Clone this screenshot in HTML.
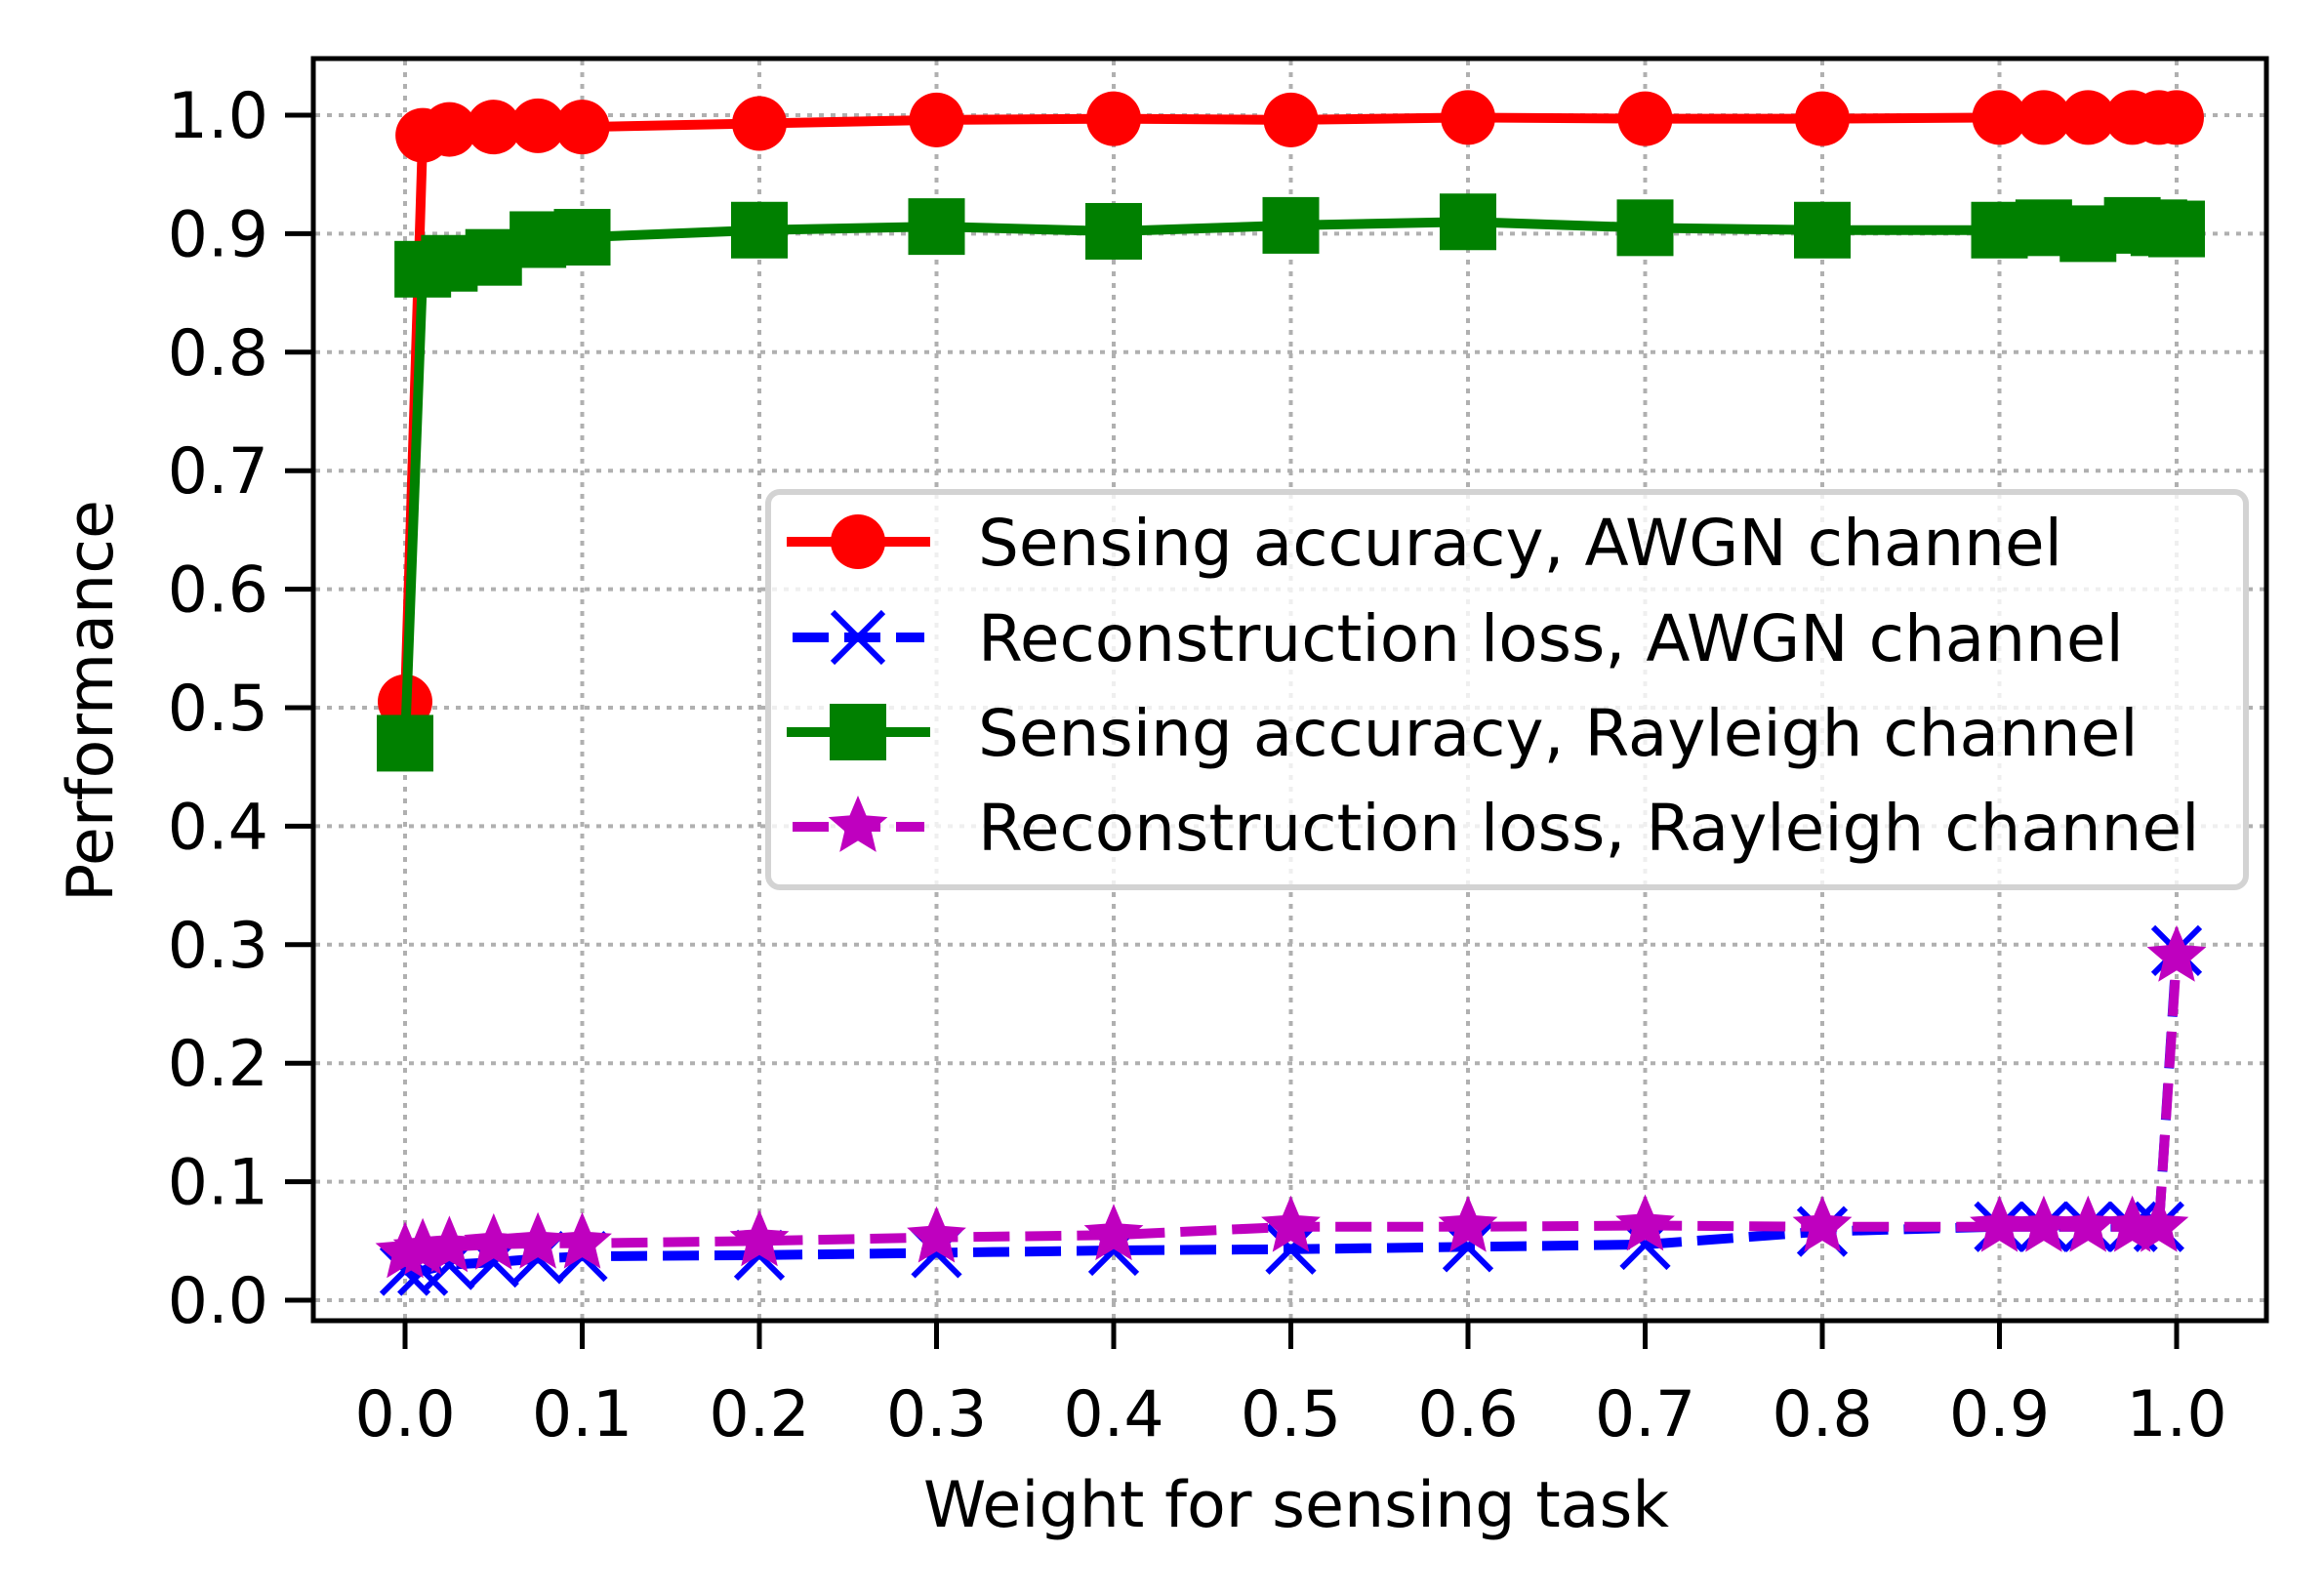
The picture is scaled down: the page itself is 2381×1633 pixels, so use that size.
<!DOCTYPE html>
<html><head><meta charset="utf-8"><style>
html,body{margin:0;padding:0;background:#fff;}
svg{display:block;font-family:"DejaVu Sans","Liberation Sans",sans-serif;}
</style></head><body>
<svg id="s" width="2381" height="1633" viewBox="0 0 2381 1633" xmlns="http://www.w3.org/2000/svg">
<rect width="2381" height="1633" fill="#fff"/>
<g id="grid"></g>
<g id="series"></g>
<g id="legend">
<rect x="787" y="504" width="1514" height="405" rx="12" fill="#fff" fill-opacity="0.8" stroke="#d3d3d3" stroke-width="6"/>
<line x1="806" y1="555" x2="953" y2="555" stroke="#ff0000" stroke-width="10"/>
<circle cx="879" cy="555" r="28" fill="#ff0000"/>
<line x1="812" y1="653" x2="947" y2="653" stroke="#0000ff" stroke-width="10" stroke-dasharray="37,16"/>
<path d="M853,627 L905,679 M853,679 L905,627" stroke="#0000ff" stroke-width="6"/>
<line x1="806" y1="750" x2="953" y2="750" stroke="#008000" stroke-width="10"/>
<rect x="850" y="721" width="58" height="58" fill="#008000"/>
<line x1="812" y1="847" x2="947" y2="847" stroke="#bf00bf" stroke-width="10" stroke-dasharray="37,16"/>
<polygon id="lstar" fill="#bf00bf"/>
<g font-size="66" fill="#000">
<text x="1002" y="579">Sensing accuracy, AWGN channel</text>
<text x="1002" y="677">Reconstruction loss, AWGN channel</text>
<text x="1002" y="774">Sensing accuracy, Rayleigh channel</text>
<text x="1002" y="871">Reconstruction loss, Rayleigh channel</text>
</g>
</g>
<rect x="321" y="60" width="2001" height="1293" fill="none" stroke="#000" stroke-width="5"/>
<g id="ticks" font-size="65" fill="#000"></g>
<text x="1328" y="1564" font-size="65" text-anchor="middle">Weight for sensing task</text>
<text transform="translate(115,718) rotate(-90)" font-size="65" text-anchor="middle">Performance</text>
</svg>
<script>
var NS="http://www.w3.org/2000/svg";
function X(v){return 415+1815*v;}
function Y(v){return 1332-1214*v;}
function el(p,t,a,txt){var e=document.createElementNS(NS,t);for(var k in a)e.setAttribute(k,a[k]);if(txt!=null)e.textContent=txt;document.getElementById(p).appendChild(e);return e;}
for(var i=0;i<=10;i++){
 var x=X(i/10),y=Y(i/10);
 el("grid","line",{x1:x,y1:62,x2:x,y2:1351,stroke:"#b0b0b0","stroke-width":4,"stroke-dasharray":"5,7"});
 el("grid","line",{x1:323,y1:y,x2:2320,y2:y,stroke:"#b0b0b0","stroke-width":4,"stroke-dasharray":"5,7"});
 el("ticks","line",{x1:x,y1:1353,x2:x,y2:1382,stroke:"#000","stroke-width":5});
 el("ticks","line",{x1:292,y1:y,x2:321,y2:y,stroke:"#000","stroke-width":5});
 var lab=(i/10).toFixed(1);
 el("ticks","text",{x:x,y:1471,"text-anchor":"middle"},lab);
 el("ticks","text",{x:275,y:y+23,"text-anchor":"end"},lab);
}
var xs=[0,0.01,0.025,0.05,0.075,0.1,0.2,0.3,0.4,0.5,0.6,0.7,0.8,0.9,0.925,0.95,0.975,0.99,1.0];
var red=[0.505,0.983,0.988,0.99,0.991,0.99,0.993,0.996,0.997,0.996,0.998,0.997,0.997,0.998,0.998,0.998,0.998,0.998,0.998];
var grn=[0.47,0.87,0.875,0.88,0.895,0.897,0.903,0.906,0.902,0.907,0.91,0.905,0.903,0.903,0.905,0.9,0.907,0.905,0.904];
var blu=[0.025,0.025,0.03,0.032,0.035,0.037,0.038,0.04,0.042,0.043,0.045,0.047,0.058,0.062,0.062,0.062,0.062,0.062,0.295];
var mag=[0.04,0.043,0.045,0.047,0.048,0.048,0.05,0.053,0.055,0.062,0.062,0.063,0.062,0.062,0.062,0.062,0.062,0.062,0.29];
function pts(d){return xs.map(function(x,i){return X(x)+","+Y(d[i]);}).join(" ");}
function star(cx,cy,R){var r=R*0.45,p=[];for(var k=0;k<10;k++){var a=-Math.PI/2+k*Math.PI/5,rr=k%2?r:R;p.push((cx+rr*Math.cos(a)).toFixed(1)+","+(cy+rr*Math.sin(a)).toFixed(1));}return p.join(" ");}
document.getElementById("lstar").setAttribute("points",star(879,847,32));
el("series","polyline",{points:pts(red),fill:"none",stroke:"#ff0000","stroke-width":10,"stroke-linejoin":"round"});
xs.forEach(function(x,i){el("series","circle",{cx:X(x),cy:Y(red[i]),r:28,fill:"#ff0000"});});
el("series","polyline",{points:pts(blu),fill:"none",stroke:"#0000ff","stroke-width":10,"stroke-dasharray":"37,16"});
xs.forEach(function(x,i){var cx=X(x),cy=Y(blu[i]);el("series","path",{d:"M"+(cx-24)+","+(cy-24)+" L"+(cx+24)+","+(cy+24)+" M"+(cx-24)+","+(cy+24)+" L"+(cx+24)+","+(cy-24),stroke:"#0000ff","stroke-width":6});});
el("series","polyline",{points:pts(grn),fill:"none",stroke:"#008000","stroke-width":10,"stroke-linejoin":"round"});
xs.forEach(function(x,i){el("series","rect",{x:X(x)-29,y:Y(grn[i])-29,width:58,height:58,fill:"#008000"});});
el("series","polyline",{points:pts(mag),fill:"none",stroke:"#bf00bf","stroke-width":10,"stroke-dasharray":"37,16"});
xs.forEach(function(x,i){el("series","polygon",{points:star(X(x),Y(mag[i]),32),fill:"#bf00bf"});});
</script>
</body></html>
